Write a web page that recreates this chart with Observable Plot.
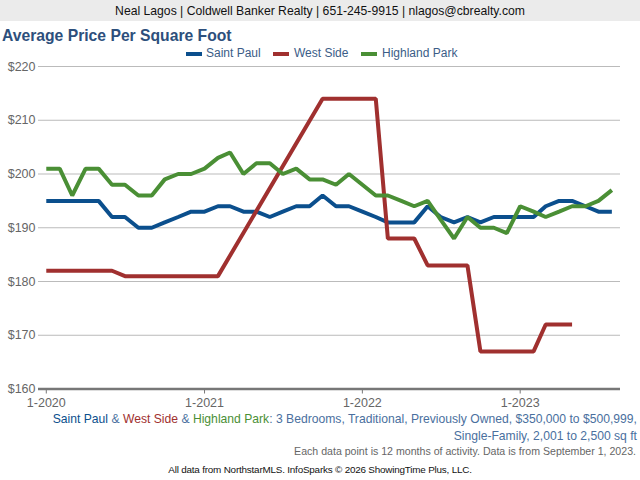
<!DOCTYPE html>
<html>
<head>
<meta charset="utf-8">
<script src="https://cdn.jsdelivr.net/npm/d3@7"></script>
<script src="https://cdn.jsdelivr.net/npm/@observablehq/plot@0.6"></script>
<style>
  body { margin: 0; width: 640px; height: 480px; position: relative; overflow: hidden; background: #fff;
         font-family: "Liberation Sans", Arial, sans-serif; }
  .abs { position: absolute; white-space: nowrap; }
  #header { left: 0; top: 0; width: 640px; height: 21px; line-height: 22px; background: #ebebeb;
            text-align: center; font-size: 12.2px; color: #111; }
  #title { left: 2px; top: 27px; font-size: 15.7px; font-weight: bold; color: #2d4f7c; }
  .sw { position: absolute; width: 16px; height: 4px; top: 52px; }
  .lg { position: absolute; top: 46px; font-size: 12px; color: #3b5d87; white-space: nowrap; }
  #chart { position: absolute; left: 0; top: 60px; }
  .cap { position: absolute; right: 3px; white-space: nowrap; }
  #c1, #c2 { font-size: 12.15px; color: #4a6f9e; }
  #c1 { top: 412px; }
  #c2 { top: 429px; }
  #c3 { top: 445px; right: 4px; font-size: 10.6px; color: #666; }
  #c4 { top: 464px; left: 0; width: 640px; text-align: center; font-size: 9.9px; color: #111; letter-spacing: -0.2px; }
</style>
</head>
<body>
<div id="header" class="abs"></div>
<div id="title" class="abs"></div>
<div id="legend"></div>
<div id="chart"></div>
<div id="c1" class="cap"></div>
<div id="c2" class="cap"></div>
<div id="c3" class="cap"></div>
<div id="c4" class="abs"></div>
<script>
// Monthly rolling 12-month average price per square foot, Jan 2020 – Aug 2023
const months = [
  "2020-01","2020-02","2020-03","2020-04","2020-05","2020-06","2020-07","2020-08","2020-09","2020-10","2020-11","2020-12",
  "2021-01","2021-02","2021-03","2021-04","2021-05","2021-06","2021-07","2021-08","2021-09","2021-10","2021-11","2021-12",
  "2022-01","2022-02","2022-03","2022-04","2022-05","2022-06","2022-07","2022-08","2022-09","2022-10","2022-11","2022-12",
  "2023-01","2023-02","2023-03","2023-04","2023-05","2023-06","2023-07","2023-08"
];

const saintPaul = [
  195,195,195,195,195,192,192,190,190,191,192,193,
  193,194,194,193,193,192,193,194,194,196,194,194,
  193,192,191,191,191,194,192,191,192,191,192,192,
  192,192,194,195,195,194,193,193
];

// null = no reported value for that month
const westSide = [
  182,182,182,182,182,182,181,181,181,181,181,181,
  181,181,null,null,null,null,null,null,null,214,214,214,
  214,214,188,188,188,183,183,183,183,167,167,167,
  167,167,172,172,172,null,null,null
];

const highlandPark = [
  201,201,196,201,201,198,198,196,196,199,200,200,
  201,203,204,200,202,202,200,201,199,199,198,200,
  198,196,196,195,194,195,191.5,188,192,190,190,189,
  194,193,192,193,194,194,195,197
];

const seriesNames = ["Saint Paul", "West Side", "Highland Park"];
const seriesColors = ["#0b4f8d", "#a0302f", "#4a8f35"];
const yTicks = [160, 170, 180, 190, 200, 210, 220];
const xTicks = ["2020-01", "2021-01", "2022-01", "2023-01"];

const headerText = "Neal Lagos | Coldwell Banker Realty | 651-245-9915 | nlagos@cbrealty.com";
const titleText = "Average Price Per Square Foot";
const filterText = ": 3 Bedrooms, Traditional, Previously Owned, $350,000 to $500,999,";
const filterText2 = "Single-Family, 2,001 to 2,500 sq ft";
const noteText = "Each data point is 12 months of activity. Data is from September 1, 2023.";
const sourceText = "All data from NorthstarMLS. InfoSparks © 2026 ShowingTime Plus, LLC.";

const parse = d3.utcParse("%Y-%m");
const rows = [];
[saintPaul, westSide, highlandPark].forEach((vals, s) => {
  vals.forEach((v, i) => {
    if (v != null) rows.push({series: seriesNames[s], date: parse(months[i]), value: v});
  });
});

document.getElementById("header").textContent = headerText;
document.getElementById("title").textContent = titleText;

// legend
const legend = document.getElementById("legend");
const swatchX = [186, 273, 361];
const labelX = [206, 294, 382];
seriesNames.forEach((name, i) => {
  const sw = document.createElement("div");
  sw.className = "sw";
  sw.style.left = swatchX[i] + "px";
  sw.style.background = seriesColors[i];
  legend.appendChild(sw);
  const lb = document.createElement("div");
  lb.className = "lg";
  lb.style.left = labelX[i] + "px";
  lb.textContent = name;
  legend.appendChild(lb);
});

// captions
const c1 = document.getElementById("c1");
seriesNames.forEach((name, i) => {
  const s = document.createElement("span");
  s.style.color = seriesColors[i];
  s.textContent = name;
  c1.appendChild(s);
  if (i < seriesNames.length - 1) c1.appendChild(document.createTextNode(" & "));
});
c1.appendChild(document.createTextNode(filterText));
document.getElementById("c2").textContent = filterText2;
document.getElementById("c3").textContent = noteText;
document.getElementById("c4").textContent = sourceText;

const chart = Plot.plot({
  width: 640,
  height: 350,
  marginTop: 6,
  marginBottom: 21.5,
  marginLeft: 38,
  marginRight: 20,
  style: {fontFamily: "Liberation Sans, Arial, sans-serif", fontSize: "12px", color: "#666", background: "transparent"},
  x: {
    type: "utc",
    domain: [new Date(Date.UTC(2019, 11, 14)), new Date(Date.UTC(2023, 7, 21))]
  },
  y: {domain: [160, 220]},
  color: {domain: seriesNames, range: seriesColors},
  marks: [
    Plot.ruleY(yTicks.filter(d => d > 160), {stroke: "#bbb", strokeWidth: 1}),
    Plot.axisY({ticks: yTicks, tickSize: 0, tickPadding: 3, label: null,
      tickFormat: d => "$" + d, fill: "#666", fontSize: 12.5}),
    Plot.axisX({ticks: xTicks.map(parse), tickSize: 5, tickPadding: 4, stroke: "#777", label: null,
      tickFormat: d => (d.getUTCMonth() + 1) + "-" + d.getUTCFullYear(), fill: "#666", fontSize: 12.5}),
    Plot.ruleY([160], {stroke: "#777", strokeWidth: 2.5}),
    Plot.line(rows, {x: "date", y: "value", z: "series", stroke: "series", strokeWidth: 4,
      strokeLinejoin: "miter", strokeLinecap: "butt"})
  ]
});
document.getElementById("chart").appendChild(chart);
</script>
</body>
</html>
